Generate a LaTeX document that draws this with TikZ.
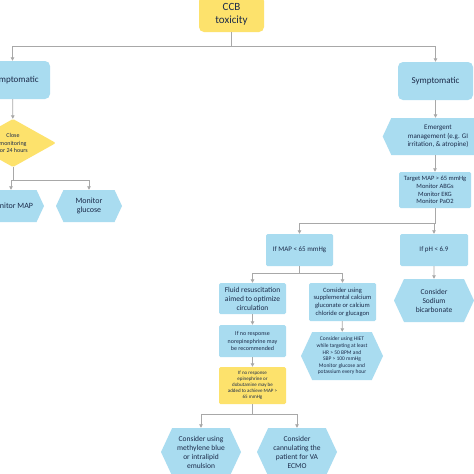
\documentclass[tikz,border=0pt]{standalone}
\usepackage{fontspec}
\setmainfont{Carlito}
\usepackage{xcolor}
\usetikzlibrary{arrows.meta, shapes.geometric, shapes.symbols}

\definecolor{boxblue}{HTML}{A9DCF0}
\definecolor{boxyel}{HTML}{FDE26C}
\definecolor{ink}{HTML}{1C2B4A}
\definecolor{wire}{HTML}{A8A8A8}

\newcommand{\fs}[1]{\fontsize{#1}{1.2\dimexpr#1pt\relax}\selectfont}

\begin{document}
\begin{tikzpicture}[
    x=1pt, y=-1pt,
    >={Triangle[length=3.5pt, width=3.5pt]},
    stp/.style={
      rounded corners=1.5pt, inner sep=1pt,
      align=center, text=ink, font=\fs{7.5}},
    blu/.style={stp, fill=boxblue},
    yel/.style={stp, fill=boxyel},
    top/.style={stp, rounded corners=5pt, minimum width=75pt,
                minimum height=38pt, font=\fs{9}},
    hexa/.style={blu, sharp corners, signal,
                 signal to=east and west, signal pointer angle=130},
    arr/.style={->, wire, line width=0.8pt},
]

\useasboundingbox (0,0) rectangle (474,474);
\fill[white] (0,0) rectangle (474,474);
\clip (0,0) rectangle (474,474);

% Column positions
\def\colL{12.5}
\def\colR{435.5}

% --- Root ---
\node[top, fill=boxyel, minimum width=65pt, minimum height=36pt,
      font=\fs{11}] (ccb) at (231.5, 14) {CCB\\toxicity};

\node[top, fill=boxblue] (asym) at (\colL, 80) {Asymptomatic};
\node[top, fill=boxblue] (sym)  at (\colR, 81) {Symptomatic};

\draw[arr] (ccb.south) -- ++(0,14) -| (asym.north);
\draw[arr] (ccb.south) -- ++(0,14) -| (sym.north);

% --- Asymptomatic branch ---
\node[yel, diamond, inner sep=0pt, minimum width=86pt,
      minimum height=43pt, font=\fs{6}] (close) at (13, 143)
  {Close\\monitoring\\for 24 hours};
\node[hexa, minimum width=66pt, minimum height=32pt,
      font=\fs{8}] (monmap) at (11, 206) {Monitor MAP};
\node[hexa, minimum width=66pt, minimum height=32pt,
      font=\fs{8}] (monglu) at (89, 206) {Monitor\\glucose};

\draw[arr] (asym) -- (close);
\draw[arr] (close.south) -- ++(0,13.5) -| (monmap.north);
\draw[arr] (close.south) -- ++(0,13.5) -| (monglu.north);

% --- Symptomatic branch ---
\node[blu, sharp corners, signal, signal to=west,
      signal pointer angle=130, minimum width=102pt,
      minimum height=37pt, font=\fs{7}] (emerg) at (438, 136.5)
  {Emergent\\management (e.g. GI\\irritation, \& atropine)};
\node[blu, minimum width=72pt, minimum height=36pt,
      font=\fs{6.5}] (target) at (435, 190)
  {Target MAP > 65 mmHg\\Monitor ABGs\\Monitor EKG\\Monitor PaO2};

\draw[arr] (sym) -- (sym |- emerg.north);
\draw[arr] (target |- emerg.south) -- (target);

\node[blu, minimum width=67pt, minimum height=32pt,
      font=\fs{7}] (map) at (299.5, 250) {If MAP < 65 mmHg};
\node[blu, minimum width=68pt, minimum height=32pt,
      font=\fs{7}] (ph) at (434, 250) {If pH < 6.9};

\draw[arr] (target.south) -- ++(0,15) -| (map.north);
\draw[arr] (target.south) -- ++(0,15) -| (ph.north);

% pH path
\node[hexa, minimum width=80pt, minimum height=43pt] (soda)
  at (434, 300.5) {Consider\\Sodium\\bicarbonate};
\draw[arr] (ph) -- (soda);

% MAP path
\node[blu, minimum width=67pt, minimum height=31pt] (fluid)
  at (252.5, 298.5)
  {Fluid resuscitation\\aimed to optimize\\circulation};
\node[blu, minimum width=67pt, minimum height=38pt,
      font=\fs{6.5}] (calc) at (342.5, 302)
  {Consider using\\supplemental calcium\\gluconate or calcium\\chloride or glucagon};

\draw[arr] (map.south) -- ++(0,7) -| (fluid.north);
\draw[arr] (map.south) -- ++(0,7) -| (calc.north);

\node[hexa, minimum width=82pt, minimum height=48pt,
      font=\fs{5.5}] (hiet) at (342, 356)
  {Consider using HIET\\while targeting at least\\HR > 50 BPM and\\SBP > 100 mmHg\\Monitor glucose and\\potassium every hour};
\draw[arr] (calc) -- (hiet);

\node[blu, minimum width=67pt, minimum height=32pt,
      font=\fs{6}] (norepi) at (252.5, 341)
  {If no response\\norepinephrine may\\be recommended};
\node[yel, minimum width=67pt, minimum height=37pt,
      font=\fs{5}] (epi) at (252.5, 385.5)
  {If no response\\epinephrine or\\dobutamine may be\\added to achieve MAP >\\65 mmHg};

\draw[arr] (fluid) -- (norepi);
\draw[arr] (norepi) -- (epi);

\node[hexa, minimum width=80pt, minimum height=48pt] (blue)
  at (201, 452) {Consider using\\methylene blue\\or intralipid\\emulsion};
\node[hexa, minimum width=80pt, minimum height=48pt] (ecmo)
  at (297, 452) {Consider\\cannulating the\\patient for VA\\ECMO};

\draw[arr] (epi.south) -- ++(0,10.5) -| (blue.north);
\draw[arr] (epi.south) -- ++(0,10.5) -| (ecmo.north);

\end{tikzpicture}
\end{document}
